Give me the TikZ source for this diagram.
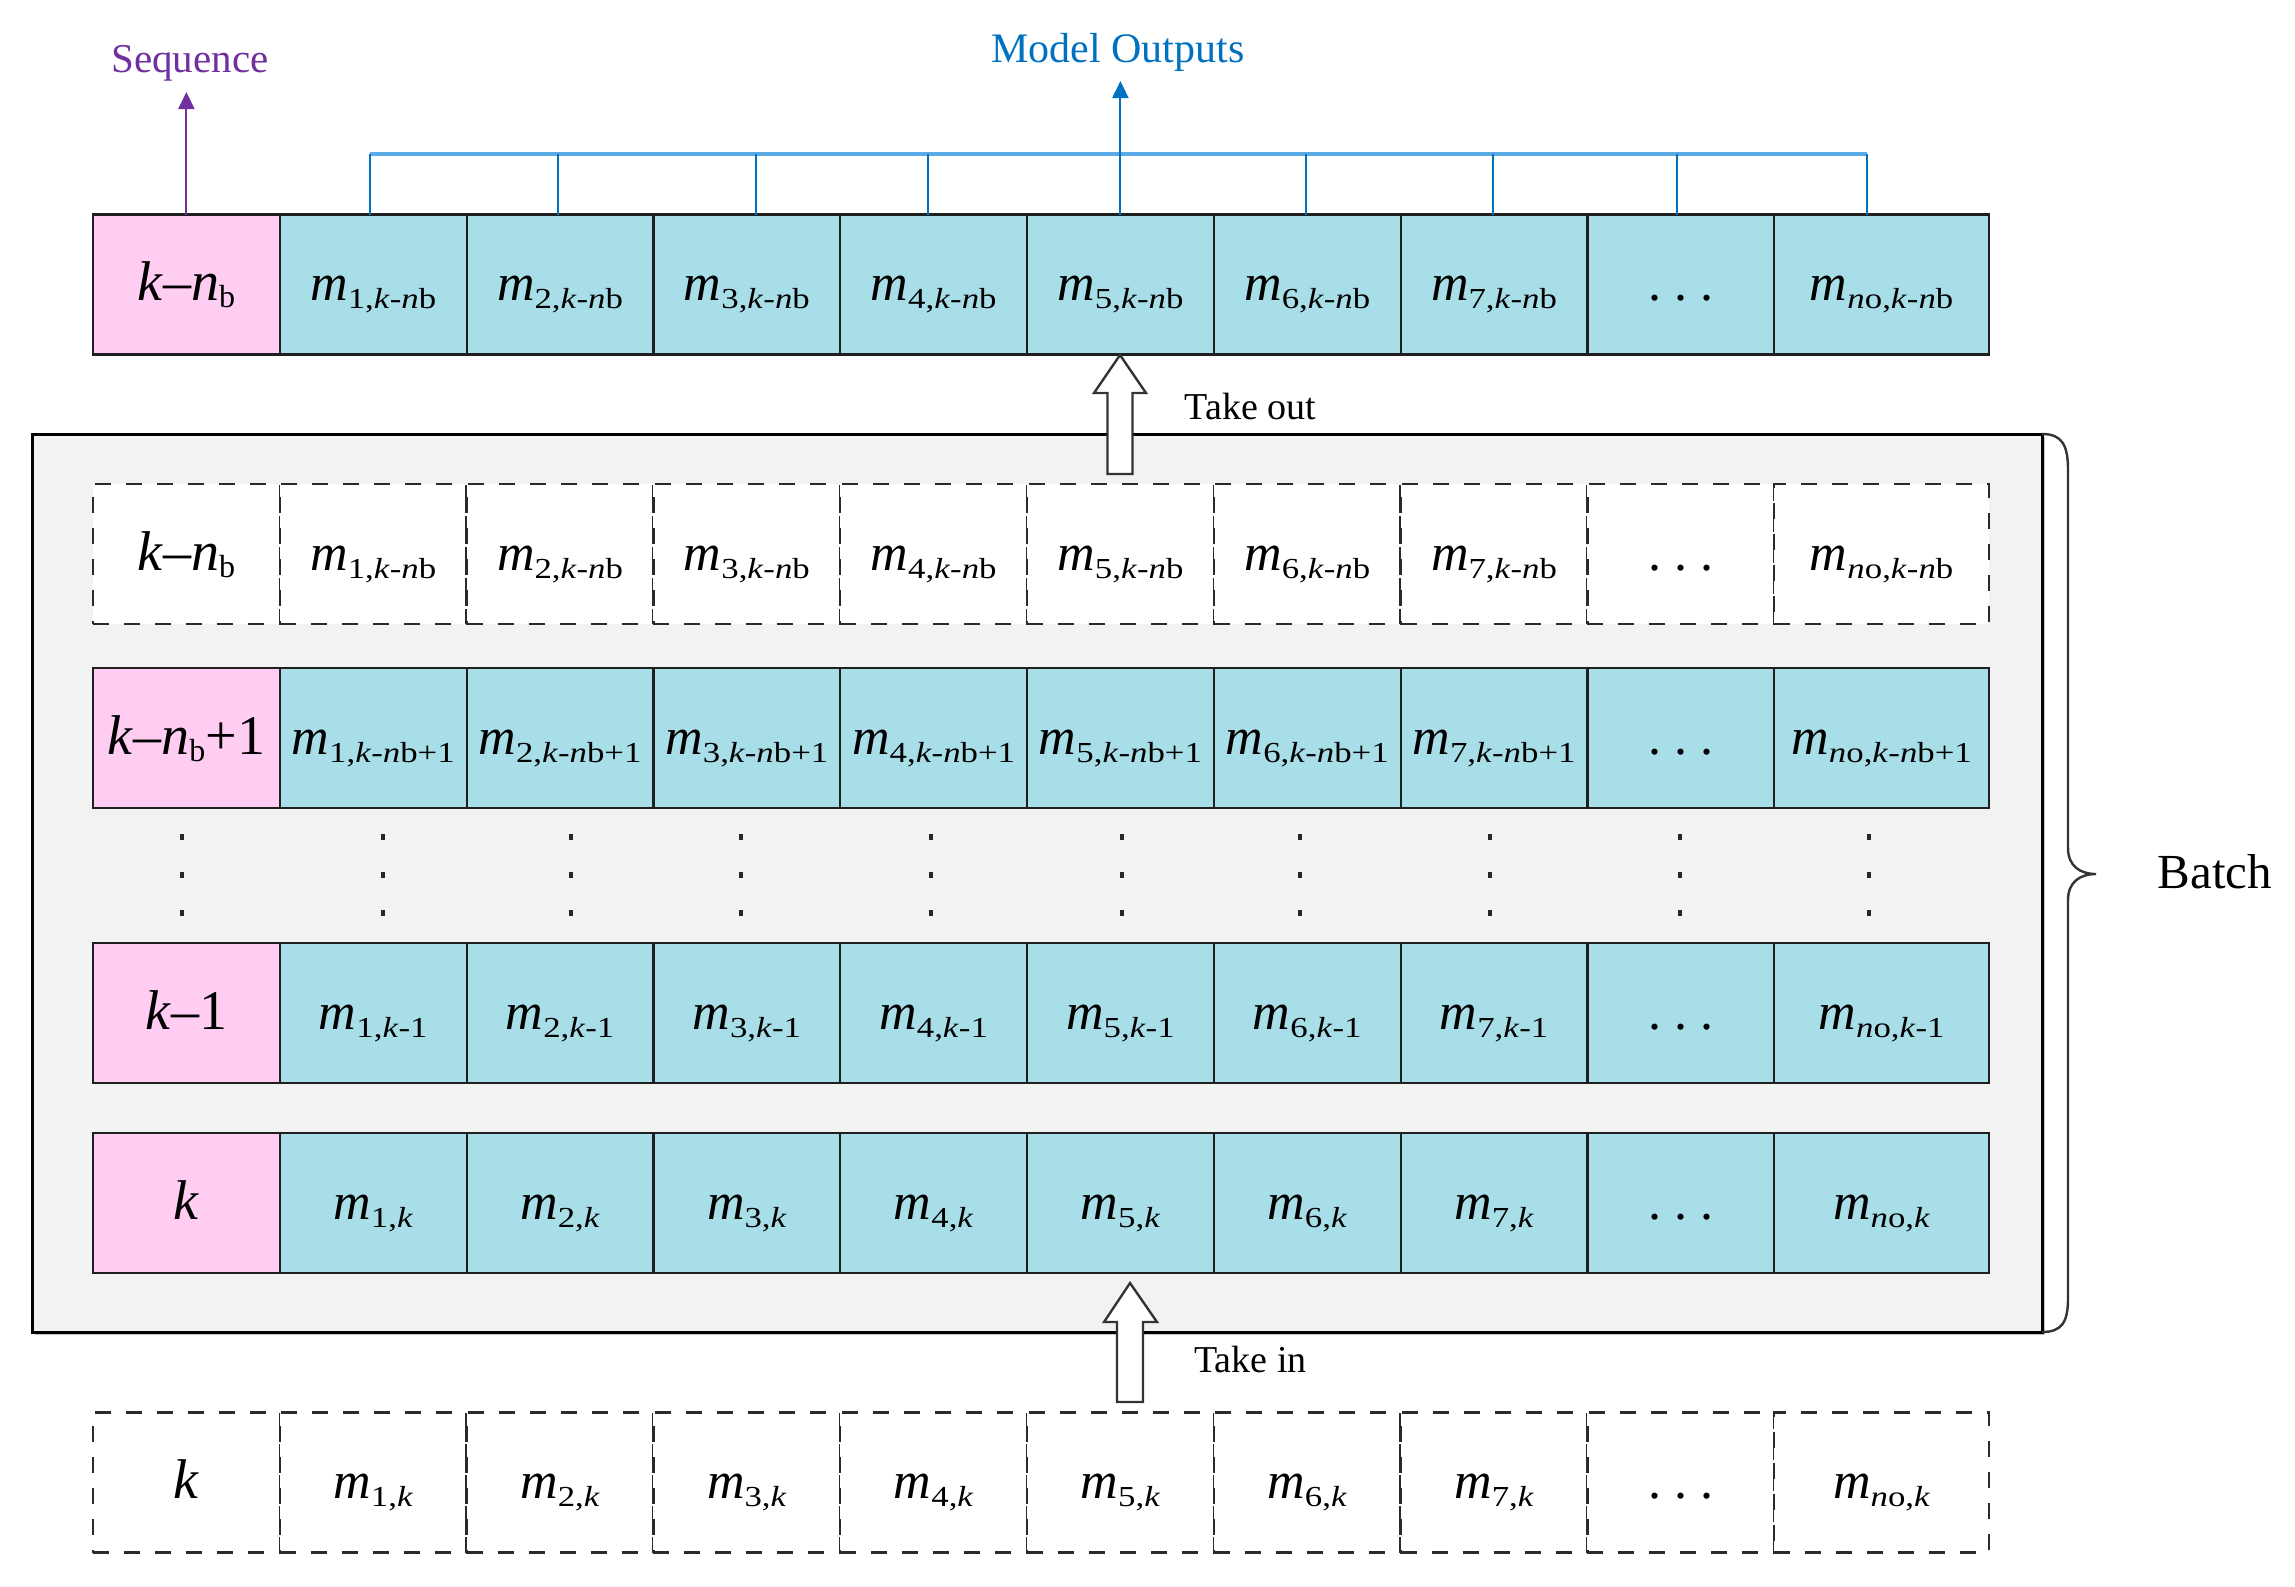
\documentclass[tikz,border=0pt]{standalone}
\usepackage{fontspec}
\setmainfont{Liberation Serif}
\usepackage{graphicx}
\usetikzlibrary{arrows.meta}
\definecolor{pinkc}{HTML}{FFCCF2}
\definecolor{cyanc}{HTML}{A8DEE8}
\definecolor{boxgray}{HTML}{F2F2F2}
\definecolor{purp}{HTML}{7030A0}
\definecolor{blueA}{HTML}{0070C0}
\definecolor{blueB}{HTML}{5AAAE6}
\definecolor{dashc}{HTML}{2A2A2A}
\newcommand{\mainsz}{\fontsize{26pt}{28pt}\selectfont}
\newcommand{\firstsz}{\fontsize{28pt}{30pt}\selectfont}
\newcommand{\ssz}{\fontsize{14.5pt}{16pt}\selectfont}
\newcommand{\msub}[1]{\textit{m}\raisebox{-4pt}{\ssz\scalebox{1.2}[1]{#1}}}
\newcommand{\knbsub}{\raisebox{-3.5pt}{\fontsize{16pt}{18pt}\selectfont b}}
\tikzset{
  cellbase/.style={rectangle, inner sep=0pt, outer sep=0pt, minimum height=70pt, minimum width=93.4pt},
  solidfirst/.style={cellbase, draw=black!88, line width=1.1pt, fill=pinkc},
  solidcell/.style={cellbase, draw=black!88, line width=1.1pt, fill=cyanc},
  dashfirst/.style={cellbase, draw=dashc, line width=1.2pt, dash pattern=on 8pt off 7.5pt, fill=white},
  dashcell/.style={cellbase, draw=dashc, line width=1.2pt, dash pattern=on 8pt off 7.5pt, fill=white},
  lab/.style={inner sep=0pt, anchor=base, font=\mainsz},
  firstlab/.style={inner sep=0pt, anchor=base, font=\firstsz},
  blockarrow/.style={draw=black!80, line width=1.2pt, fill=white, line join=miter},
  drop/.style={blueA, line width=1pt},
  plain/.style={inner sep=0pt, anchor=base}
}
\newcommand{\datarow}[5]{%
  \node[#3first] (r#1c0) at (186.4,#2) {};
  \node[firstlab] (t#1c0) at ([yshift=-8pt]r#1c0.center) {#4};
  \foreach \i/\x in {1/373.2,2/560,3/746.8,4/933.6,5/1120.4,6/1307.2,7/1494} {
    \node[#3cell] (r#1c\i) at (\x,#2) {};
    \node[lab] (t#1c\i) at ([yshift=-8pt]r#1c\i.center) {\msub{\i,#5}};
  }
  \node[#3cell] (r#1c8) at (1680.8,#2) {};
  \node[lab] (t#1c8) at ([yshift=-8pt]r#1c8.center) {.\ .\ .};
  \node[#3cell, minimum width=107.4pt] (r#1c9) at (1881.6,#2) {};
  \node[lab] (t#1c9) at ([yshift=-8pt]r#1c9.center) {\msub{\textit{n}o,#5}};
}
\begin{document}
\begin{tikzpicture}[x=0.5pt,y=-0.5pt]
\useasboundingbox (0,0) rectangle (2295,1586);
% batch box
\fill[black!22] (35,437) rectangle (2045,1335);
\node[draw=black, line width=1.5pt, fill=boxgray, inner sep=0pt, outer sep=0pt,
      minimum width=1005pt, minimum height=449pt] (batch) at (1037,883) {};
% rows
\datarow{0}{284.5}{solid}{\textit{k}\textendash\textit{n}\knbsub}{\textit{k}-\textit{n}b}
\datarow{1}{554}{dash}{\textit{k}\textendash\textit{n}\knbsub}{\textit{k}-\textit{n}b}
\datarow{2}{738}{solid}{\textit{k}\textendash\textit{n}\knbsub+1}{\textit{k}-\textit{n}b+1}
\datarow{3}{1013}{solid}{\textit{k}\textendash1}{\textit{k}-1}
\datarow{4}{1203}{solid}{\textit{k}}{\textit{k}}
\datarow{5}{1482.5}{dash}{\textit{k}}{\textit{k}}
% vertical dots
\foreach \x in {181.5,383,570.5,740.6,931,1121.5,1300,1490,1680,1869} {
  \foreach \y in {837,875,913} {
    \fill[black!85] (\x-2,\y-3) rectangle (\x+2,\y+3);
  }
}
% block arrows
\draw[blockarrow] (1120,355) -- (1146,393) -- (1132.5,393) -- (1132.5,474) -- (1107.5,474) -- (1107.5,393) -- (1094,393) -- cycle;
\draw[blockarrow] (1130,1283) -- (1157,1322) -- (1143,1322) -- (1143,1402) -- (1117,1402) -- (1117,1322) -- (1104,1322) -- cycle;
\node[plain, font=\fontsize{19pt}{21pt}\selectfont] (tout) at (1250.5,419) {Take out};
\node[plain, font=\fontsize{19pt}{21pt}\selectfont] (tin) at (1250.5,1372) {Take in};
% brace
\draw[black!80, line width=1.2pt] (2042,434) .. controls (2062,434) and (2068,445) .. (2068,470) -- (2068,848) .. controls (2068,866) and (2080,874) .. (2096,874) .. controls (2080,874) and (2068,882) .. (2068,900) -- (2068,1298) .. controls (2068,1322) and (2062,1332) .. (2042,1332);
\node[plain, font=\fontsize{24.5pt}{26pt}\selectfont] (batchlab) at (2215,888) {Batch};
% sequence arrow
\coordinate (seqtip) at (186.4,92);
\draw[purp, line width=1pt, -{Triangle[length=8.5pt,width=8pt]}] (r0c0.north) -- (seqtip);
\node[plain, text=purp, font=\fontsize{20.5pt}{22pt}\selectfont] (seq) at (190,72) {Sequence};
% model outputs
\coordinate (barL) at (370,154);
\coordinate (barR) at (1867,154);
\draw[blueB, line width=1.8pt] (barL) -- (barR);
\foreach \i/\dx in {1/-1.6,2/-1,3/4.6,4/-2.8,6/-0.8,7/-0.5,8/-1.9,9/-7.3} {
  \draw[drop] ([xshift=\dx pt]r0c\i.north) -- ++(0,-61);
}
\coordinate (outtip) at (1120.4,81);
\draw[drop, -{Triangle[length=8.5pt,width=8pt]}] (r0c5.north) -- (outtip);
\node[plain, text=blueA, font=\fontsize{21pt}{23pt}\selectfont] (mo) at (1118,62) {Model Outputs};
\end{tikzpicture}
\end{document}
